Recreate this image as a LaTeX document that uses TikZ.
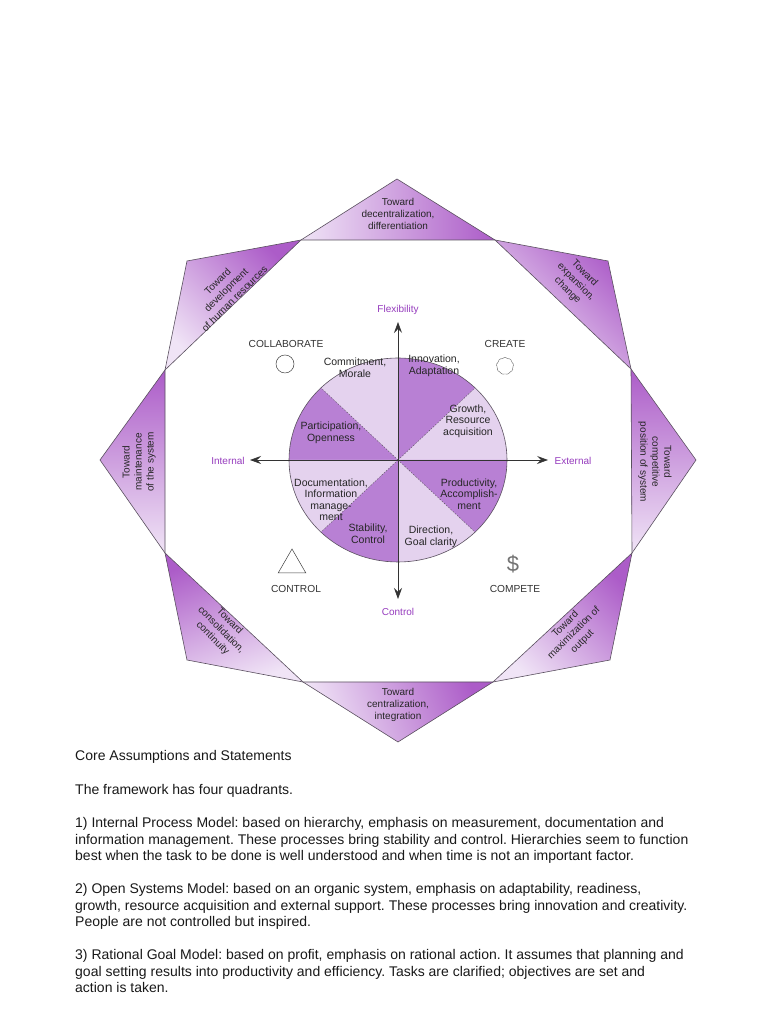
\documentclass[tikz,border=0pt]{standalone}
\usepackage{fontspec}
\setmainfont{Liberation Sans}
\frenchspacing
\usetikzlibrary{arrows.meta,shapes.geometric}
\definecolor{dk}{RGB}{172,92,200}
\definecolor{lt}{RGB}{240,228,246}
\definecolor{sdk}{RGB}{184,128,212}
\definecolor{slt}{RGB}{228,210,238}
\definecolor{lab}{RGB}{150,60,190}
\definecolor{ln}{RGB}{90,80,95}
\begin{document}
\begin{tikzpicture}[x=1pt,y=1pt,
  piece/.style={draw=ln,line width=0.6pt},
  tlab/.style={font=\fontsize{10}{12}\selectfont,align=center,text=black!85,inner sep=0pt},
  slab/.style={font=\fontsize{10.5}{11.5}\selectfont,align=center,text=black!85,inner sep=0pt},
  qlab/.style={font=\fontsize{10.2}{11}\selectfont,text=black!80,inner sep=0pt},
  alab/.style={font=\fontsize{10}{11}\selectfont,text=lab,inner sep=0pt},
  para/.style={font=\fontsize{14}{16}\selectfont,anchor=base west,inner sep=0pt,text=black!90},
  axarrow/.style={draw=black!80,line width=0.7pt,-{Stealth[length=11pt,width=8pt,inset=4pt]}}]
\useasboundingbox (0,0) rectangle (768,1024);
\fill[white] (0,0) rectangle (768,1024);
% coordinates
\coordinate (A1) at (301,784); \coordinate (A2) at (495,784);
\coordinate (A3) at (631,655); \coordinate (A4) at (632,471);
\coordinate (A5) at (493,342); \coordinate (A6) at (303,342);
\coordinate (A7) at (165,471); \coordinate (A8) at (165,654);
\coordinate (T) at (397,845); \coordinate (R) at (696,564);
\coordinate (B) at (398,282); \coordinate (L) at (100,564);
\coordinate (TL) at (187,763); \coordinate (TR) at (608,763);
\coordinate (BR) at (610,364); \coordinate (BL) at (187,364);
\coordinate (C) at (398,564);
% pieces
\shade[top color=dk,bottom color=lt,shading angle=-90] (A1)--(T)--(A2)--cycle;
\shade[top color=dk,bottom color=lt,shading angle=-45] (A8)--(TL)--(A1)--cycle;
\shade[top color=dk,bottom color=lt,shading angle=-45] (A2)--(TR)--(A3)--cycle;
\shade[top color=dk,bottom color=lt,shading angle=0] (A3)--(R)--(A4)--cycle;
\shade[top color=dk,bottom color=lt,shading angle=-45] (A4)--(BR)--(A5)--cycle;
\shade[top color=dk,bottom color=lt,shading angle=-70] (A5)--(B)--(A6)--cycle;
\shade[top color=dk,bottom color=lt,shading angle=20] (A6)--(BL)--(A7)--cycle;
\shade[top color=dk,bottom color=lt,shading angle=0] (A7)--(L)--(A8)--cycle;
\draw[piece] (A1)--(T)--(A2) (A8)--(TL)--(A1) (A2)--(TR)--(A3) (A3)--(R)--(A4)
  (A4)--(BR)--(A5) (A5)--(B)--(A6) (A6)--(BL)--(A7) (A7)--(L)--(A8);
\draw[piece] (A1)--(A2)--(A3)--(A4)--(A5)--(A6)--(A7)--(A8)--cycle;
% piece labels
\node[tlab] (pt) at (398,810) {Toward\\decentralization,\\differentiation};
\node[tlab] (pb) at (398,319) {Toward\\centralization,\\integration};
\node[tlab,rotate=90] (pl) at (139,562) {Toward\\maintenance\\of the system};
\node[tlab,rotate=-90] (pr) at (655,562) {Toward\\competitive\\position of system};
\node[tlab,rotate=45] (ptl) at (226,734) {Toward\\development\\of human resources};
\node[tlab,rotate=-45] (ptr) at (576,742) {Toward\\expansion,\\change};
\node[tlab,rotate=45] (pbr) at (574,391) {Toward\\maximization of\\output};
\node[tlab,rotate=-45] (pbl) at (221,394) {Toward\\consolidation,\\continuity};
% circle sectors
\foreach \a/\c in {0/slt,45/sdk,90/slt,135/sdk,180/slt,225/sdk,270/slt,315/sdk}{
  \fill[\c] (C) -- +(\a:109 and 102) arc[start angle=\a,end angle=\a+45,x radius=109,y radius=102] -- cycle;}
\draw[ln,line width=0.6pt] (C) ellipse[x radius=109,y radius=102];
\foreach \a in {45,135,225,315}{\draw[ln,line width=0.4pt,dash pattern=on 1.5pt off 1.5pt] (C) -- +(\a:109 and 102);}
% sector labels
\node[slab] (s1) at (355,656) {Commitment,\\Morale};
\node[slab] (s2) at (434,658) {Innovation,\\Adaptation};
\node[slab] (s3) at (468,603) {Growth,\\Resource\\acquisition};
\node[slab] (s4) at (469,530) {Productivity,\\Accomplish-\\ment};
\node[slab] (s5) at (431,487) {Direction,\\Goal clarity};
\node[slab] (s6) at (368,490) {Stability,\\Control};
\node[slab] (s7) at (331,524) {Documentation,\\Information\\manage-\\ment};
\node[slab] (s8) at (331,591) {Participation,\\Openness};
% axes
\draw[axarrow] (C) -- (398,702);
\draw[axarrow] (C) -- (398,425);
\draw[axarrow] (C) -- (250,564);
\draw[axarrow] (C) -- (548,564);
\node[alab] (fx) at (398,714) {Flexibility};
\node[alab] (ct) at (398,412) {Control};
\node[alab] (in) at (228,563) {Internal};
\node[alab] (ex) at (573,563) {External};
% quadrant labels
\node[qlab] (q1) at (286,680) {COLLABORATE};
\node[qlab] (q2) at (505,680) {CREATE};
\node[qlab] (q3) at (296,435) {CONTROL};
\node[qlab] (q4) at (515,435) {COMPETE};
\node[draw=black!75,circle,minimum size=18pt,inner sep=0pt,line width=0.5pt] (sy1) at (285,660) {};
\node[draw=black!60,star,star points=9,star point ratio=1.3,minimum size=19pt,inner sep=0pt,line width=0.4pt,rounded corners=1.5pt] (sy2) at (505,658) {};
\node[draw=black!75,isosceles triangle,shape border rotate=90,isosceles triangle apex angle=60,minimum size=24pt,inner sep=0pt,line width=0.5pt] (sy3) at (292,459) {};
\node[font=\fontsize{22}{22}\selectfont,text=black!55,inner sep=0pt] (sy4) at (513,460) {\$};
% paragraph text
\node[para] (t1) at (75,263) {Core Assumptions and Statements};
\node[para] (t2) at (75,229) {The framework has four quadrants.};
\node[para] (t3) at (75,196) {1) Internal Process Model: based on hierarchy, emphasis on measurement, documentation and};
\node[para] (t4) at (75,179.5) {information management. These processes bring stability and control. Hierarchies seem to function};
\node[para] (t5) at (75,163) {best when the task to be done is well understood and when time is not an important factor.};
\node[para] (t6) at (75,130) {2) Open Systems Model: based on an organic system, emphasis on adaptability, readiness,};
\node[para] (t7) at (75,113.5) {growth, resource acquisition and external support. These processes bring innovation and creativity.};
\node[para] (t8) at (75,97) {People are not controlled but inspired.};
\node[para] (t9) at (75,64) {3) Rational Goal Model: based on profit, emphasis on rational action. It assumes that planning and};
\node[para] (t10) at (75,47.5) {goal setting results into productivity and efficiency. Tasks are clarified; objectives are set and};
\node[para] (t11) at (75,31) {action is taken.};
\end{tikzpicture}
\end{document}
